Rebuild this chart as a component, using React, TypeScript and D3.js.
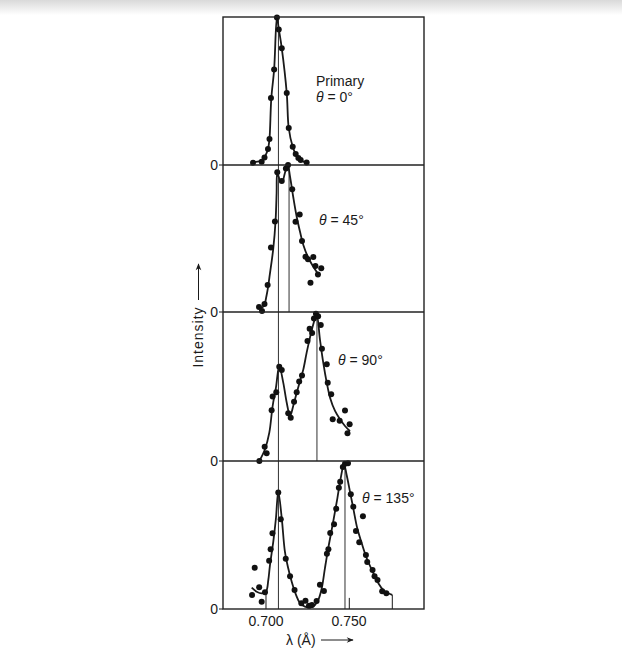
import React, { useEffect, useRef } from 'react';
import * as d3 from 'd3';

// wavelength (Å), intensity (0..1 of panel height)
type Pt = [number, number];

const PRIMARY_DOTS: Pt[] = [
  [0.6922, 0.016], [0.6974, 0.022], [0.6991, 0.051], [0.7012, 0.108], [0.7021, 0.176],
  [0.703, 0.453], [0.7049, 0.645], [0.7066, 0.997], [0.7077, 0.916], [0.7095, 0.789],
  [0.7125, 0.486], [0.7137, 0.25], [0.7161, 0.123], [0.7179, 0.074], [0.7195, 0.047],
  [0.7209, 0.034], [0.7245, 0.017],
];
const PRIMARY_CURVE: Pt[] = [
  [0.6914, 0.012], [0.6934, 0.02], [0.6974, 0.03], [0.6995, 0.06], [0.7012, 0.108],
  [0.7021, 0.176], [0.7032, 0.45], [0.7049, 0.645], [0.7066, 1.0], [0.7077, 0.92],
  [0.7095, 0.79], [0.7125, 0.486], [0.7137, 0.25], [0.7161, 0.123], [0.7179, 0.074],
  [0.7195, 0.047], [0.7215, 0.028], [0.7245, 0.012],
];

const DOTS_45: Pt[] = [
  [0.6958, 0.034], [0.6976, 0.007], [0.6991, 0.054], [0.701, 0.184], [0.703, 0.439],
  [0.7054, 0.616], [0.7068, 0.95], [0.7095, 0.891], [0.712, 0.976], [0.7133, 1.0],
  [0.7158, 0.835], [0.7178, 0.614], [0.7203, 0.663], [0.7217, 0.483], [0.7238, 0.376],
  [0.7253, 0.358], [0.7285, 0.374], [0.7298, 0.313], [0.7333, 0.297], [0.7313, 0.255],
  [0.7268, 0.199],
];
const CURVE_45: Pt[] = [
  [0.6954, 0.025], [0.6984, 0.036], [0.7004, 0.116], [0.7024, 0.263], [0.7044, 0.433],
  [0.7058, 0.626], [0.7064, 0.81], [0.7068, 0.946], [0.7084, 0.898], [0.7098, 0.886],
  [0.7114, 0.946], [0.7131, 1.0], [0.7145, 0.92], [0.7164, 0.784], [0.7185, 0.648],
  [0.7205, 0.546], [0.7225, 0.456], [0.7255, 0.369], [0.7285, 0.308], [0.7319, 0.252],
];

const DOTS_90: Pt[] = [
  [0.696, 0.0], [0.6992, 0.096], [0.7004, 0.052], [0.7034, 0.341], [0.704, 0.433],
  [0.7062, 0.462], [0.708, 0.633], [0.7095, 0.611], [0.7134, 0.32], [0.7149, 0.291],
  [0.7169, 0.398], [0.7185, 0.462], [0.72, 0.534], [0.7217, 0.574], [0.725, 0.805],
  [0.7263, 0.887], [0.7278, 0.859], [0.7289, 0.956], [0.7301, 0.988], [0.7314, 0.971],
  [0.733, 0.913], [0.7337, 0.753], [0.7366, 0.649], [0.7372, 0.526], [0.7393, 0.448],
  [0.7402, 0.28], [0.7444, 0.27], [0.7476, 0.339], [0.7504, 0.246], [0.7491, 0.186],
];
const CURVE_90: Pt[] = [
  [0.696, 0.0], [0.6994, 0.079], [0.702, 0.19], [0.704, 0.369], [0.706, 0.492],
  [0.708, 0.638], [0.7104, 0.526], [0.7125, 0.391], [0.7145, 0.302], [0.7164, 0.369],
  [0.7185, 0.458], [0.7205, 0.537], [0.7225, 0.615], [0.7245, 0.727], [0.7265, 0.828],
  [0.7285, 0.917], [0.7305, 0.985], [0.7325, 0.817], [0.7345, 0.66], [0.7366, 0.526],
  [0.7386, 0.425], [0.7416, 0.336], [0.7446, 0.28], [0.7476, 0.235], [0.7506, 0.201],
];

const DOTS_135: Pt[] = [
  [0.6932, 0.279], [0.6959, 0.147], [0.6916, 0.095], [0.6974, 0.049], [0.6994, 0.113],
  [0.7019, 0.326], [0.7028, 0.404], [0.7039, 0.511], [0.7074, 0.787], [0.7089, 0.607],
  [0.7119, 0.34], [0.7145, 0.221], [0.7172, 0.128], [0.7213, 0.039], [0.7238, 0.055],
  [0.7259, 0.022], [0.7277, 0.027], [0.7305, 0.054], [0.7325, 0.164], [0.7349, 0.122],
  [0.7367, 0.374], [0.7376, 0.404], [0.7387, 0.514], [0.741, 0.572], [0.7423, 0.678],
  [0.7439, 0.82], [0.7447, 0.86], [0.7463, 0.959], [0.7476, 0.981], [0.7494, 0.984],
  [0.7511, 0.775], [0.7526, 0.691], [0.7542, 0.527], [0.7562, 0.451], [0.7584, 0.627],
  [0.7602, 0.365], [0.761, 0.318], [0.7642, 0.264], [0.7654, 0.222], [0.7672, 0.196],
  [0.77, 0.12], [0.7725, 0.106],
];
const CURVE_135: Pt[] = [
  [0.6914, 0.144], [0.6944, 0.117], [0.6974, 0.106], [0.7, 0.117], [0.7014, 0.196],
  [0.7024, 0.297], [0.7044, 0.455], [0.706, 0.613], [0.7074, 0.793], [0.7095, 0.613],
  [0.7114, 0.387], [0.7134, 0.275], [0.7155, 0.184], [0.7181, 0.095], [0.7205, 0.039],
  [0.7235, 0.016], [0.7265, 0.009], [0.7295, 0.027], [0.7315, 0.061], [0.7336, 0.14],
  [0.7355, 0.275], [0.7375, 0.41], [0.7405, 0.59], [0.743, 0.748], [0.745, 0.883],
  [0.747, 0.978], [0.7486, 0.905], [0.7506, 0.793], [0.7526, 0.68], [0.755, 0.545],
  [0.7577, 0.444], [0.7607, 0.343], [0.7643, 0.252], [0.7677, 0.174], [0.7707, 0.128],
  [0.7737, 0.106], [0.7761, 0.095],
];

const PANEL_DOTS = [PRIMARY_DOTS, DOTS_45, DOTS_90, DOTS_135];
const PANEL_CURVES = [PRIMARY_CURVE, CURVE_45, CURVE_90, CURVE_135];
const PANEL_LABELS = [['Primary', 'θ = 0°'], ['θ = 45°'], ['θ = 90°'], ['θ = 135°']];
const UNMODIFIED_LINE = 0.7075;
const COMPTON_LINES = [null, 0.7139, 0.7307, 0.7476];
// short end markers at the foot of the 135° panel: [wavelength, height]
const END_MARKERS: Pt[] = [[0.7, 0.117], [0.7502, 0.075], [0.7761, 0.095]];
const X_TICKS = [0.7, 0.75];

const W = 622;
const H = 666;

const App: React.FC = () => {
  const svgRef = useRef<SVGSVGElement>(null);

  useEffect(() => {
    if (!svgRef.current) return;
    const svg = d3.select(svgRef.current);
    svg.selectAll('*').remove();

    const font = '"Liberation Sans", Arial, Helvetica, sans-serif';
    const ink = '#1a1a1a';
    const fs = 14;

    // faint grey band at the top of the page
    const defs = svg.append('defs');
    const grad = defs.append('linearGradient').attr('id', 'topband').attr('x1', 0).attr('x2', 0).attr('y1', 0).attr('y2', 1);
    grad.append('stop').attr('offset', '0%').attr('stop-color', '#d9d9d9');
    grad.append('stop').attr('offset', '100%').attr('stop-color', '#ffffff');
    svg.append('rect').attr('x', 0).attr('y', 0).attr('width', W).attr('height', 15).attr('fill', 'url(#topband)');

    const arrow = defs.append('marker').attr('id', 'arr').attr('viewBox', '0 0 10 10')
      .attr('refX', 9).attr('refY', 5).attr('markerWidth', 9).attr('markerHeight', 7).attr('orient', 'auto')
      .attr('markerUnits', 'userSpaceOnUse');
    arrow.append('path').attr('d', 'M0,1 L10,5 L0,9 L3,5 Z').attr('fill', ink);

    const left = 223;
    const right = 424;
    const bounds = [17, 165, 312, 461, 609];

    const x = d3.scaleLinear().domain([0.6741, 0.7952]).range([left, right]);
    const line = d3.line<Pt>().curve(d3.curveCatmullRom.alpha(0.5));

    PANEL_DOTS.forEach((dots, i) => {
      const y = d3.scaleLinear().domain([0, 1]).range([bounds[i + 1], bounds[i]]);
      const g = svg.append('g');

      const c = COMPTON_LINES[i];
      if (c !== null) {
        g.append('line').attr('x1', x(c)).attr('x2', x(c)).attr('y1', y(1)).attr('y2', y(0))
          .attr('stroke', ink).attr('stroke-width', 0.9);
      }

      line.x((d) => x(d[0])).y((d) => y(d[1]));
      g.append('path').attr('d', line(PANEL_CURVES[i]) ?? '').attr('fill', 'none')
        .attr('stroke', ink).attr('stroke-width', 1.8);

      g.selectAll('circle').data(dots).enter().append('circle')
        .attr('cx', (d) => x(d[0])).attr('cy', (d) => y(d[1])).attr('r', 3).attr('fill', '#111');

      // zero label and tick
      g.append('line').attr('x1', left - 4).attr('x2', left).attr('y1', y(0)).attr('y2', y(0))
        .attr('stroke', ink).attr('stroke-width', 1);
      g.append('text').attr('x', left - 5).attr('y', y(0) + 5).attr('text-anchor', 'end')
        .attr('font-family', font).attr('font-size', fs).attr('fill', ink).text('0');

      const labels = PANEL_LABELS[i];
      const lx = [316, 319, 338, 362][i];
      const ly = [86, 225, 365, 503][i];
      labels.forEach((t, k) => {
        const txt = g.append('text').attr('x', lx).attr('y', ly + k * 16)
          .attr('font-family', font).attr('font-size', fs).attr('fill', ink);
        if (t.startsWith('θ')) {
          txt.append('tspan').attr('font-style', 'italic').text('θ');
          txt.append('tspan').text(t.slice(1));
        } else {
          txt.text(t);
        }
      });

      if (i === 3) {
        g.selectAll('line.end').data(END_MARKERS).enter().append('line')
          .attr('class', 'end')
          .attr('x1', (d) => x(d[0])).attr('x2', (d) => x(d[0]))
          .attr('y1', (d) => y(d[1])).attr('y2', y(0))
          .attr('stroke', ink).attr('stroke-width', 1);
      }
    });

    // unmodified line through all panels
    svg.append('line').attr('x1', x(UNMODIFIED_LINE)).attr('x2', x(UNMODIFIED_LINE))
      .attr('y1', bounds[0]).attr('y2', bounds[4]).attr('stroke', ink).attr('stroke-width', 0.9);

    // frame
    svg.append('rect').attr('x', left).attr('y', bounds[0]).attr('width', right - left)
      .attr('height', bounds[4] - bounds[0]).attr('fill', 'none').attr('stroke', '#222').attr('stroke-width', 1.4);
    bounds.slice(1, 4).forEach((b) => {
      svg.append('line').attr('x1', left).attr('x2', right).attr('y1', b).attr('y2', b)
        .attr('stroke', '#222').attr('stroke-width', 1.4);
    });

    // x tick labels
    svg.selectAll('text.xt').data(X_TICKS).enter().append('text').attr('class', 'xt')
      .attr('x', (d) => x(d)).attr('y', 626).attr('text-anchor', 'middle')
      .attr('font-family', font).attr('font-size', fs).attr('fill', ink)
      .text((d) => d3.format('.3f')(d));

    // x axis title
    svg.append('text').attr('x', 286).attr('y', 645).attr('font-family', font).attr('font-size', fs)
      .attr('fill', ink).text('λ (Å)');
    svg.append('line').attr('x1', 321).attr('x2', 353).attr('y1', 640).attr('y2', 640)
      .attr('stroke', ink).attr('stroke-width', 1).attr('marker-end', 'url(#arr)');

    // y axis title
    svg.append('text').attr('transform', 'translate(203,337) rotate(-90)').attr('text-anchor', 'middle')
      .attr('font-family', font).attr('font-size', fs).attr('letter-spacing', 1).attr('fill', ink)
      .text('Intensity');
    svg.append('line').attr('x1', 198.5).attr('x2', 198.5).attr('y1', 300).attr('y2', 264)
      .attr('stroke', ink).attr('stroke-width', 1).attr('marker-end', 'url(#arr)');
  }, []);

  return (
    <div style={{ position: 'absolute', left: 0, top: 0, width: W, height: H, background: '#fff' }}>
      <svg ref={svgRef} width={W} height={H} style={{ display: 'block' }} />
    </div>
  );
};

export default App;
